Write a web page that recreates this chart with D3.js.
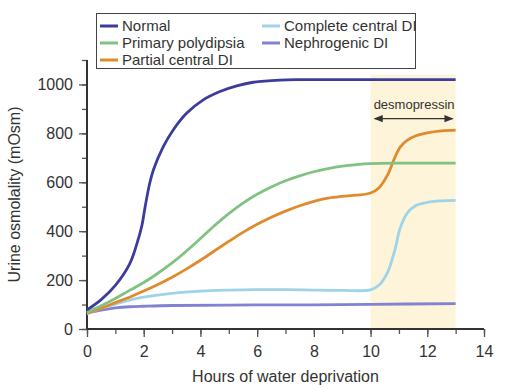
<!DOCTYPE html>
<html>
<head>
<meta charset="utf-8">
<script src="https://d3js.org/d3.v7.min.js"></script>
<style>
  body { margin: 0; background: #fff; }
  svg { font-family: "Liberation Sans", Arial, sans-serif; }
</style>
</head>
<body>
<svg id="chart" width="516" height="389"></svg>
<script>
// data
var seriesNames = ["Normal", "Primary polydipsia", "Partial central DI", "Complete central DI", "Nephrogenic DI"];
var seriesColors = ["#3c3c9c", "#80c282", "#e08a2c", "#9fd3e8", "#8282d2"];

var normal = [[0, 78], [0.5, 120], [1, 178], [1.5, 265], [1.75, 345], [1.93, 420], [2.05, 500],
  [2.2, 590], [2.34, 650], [2.69, 746], [3.04, 814], [3.51, 882], [4.1, 937], [4.69, 971],
  [5.28, 994], [5.86, 1009], [6.8, 1018], [7.5, 1020], [10, 1020], [13, 1020]];
var primary = [[0, 68], [0.5, 95], [1, 125], [1.5, 158], [2, 190], [2.5, 228], [3, 270], [3.5, 318],
  [4, 370], [4.5, 423], [5, 472], [5.5, 515], [6, 551], [6.5, 581], [7, 606], [7.5, 626], [8, 643],
  [8.5, 656], [9, 666], [9.5, 672], [10, 676], [11, 678], [13, 678]];
var partial = [[0, 65], [0.5, 85], [1, 108], [1.5, 130], [2, 155], [2.5, 182], [3, 212], [3.5, 245],
  [4, 281], [4.5, 320], [5, 358], [5.5, 395], [6, 428], [6.5, 457], [7, 482], [7.5, 504], [8, 522],
  [8.5, 535], [9, 542], [9.5, 547], [10, 556], [10.3, 578], [10.6, 630], [10.85, 700], [11.05, 745],
  [11.3, 772], [11.6, 790], [12, 802], [12.5, 810], [13, 813]];
var complete = [[0, 62], [0.5, 85], [1, 102], [1.5, 118], [2, 130], [3, 146], [4, 155], [5, 159],
  [6, 161], [7, 161], [8, 159], [9, 158], [10, 160], [10.3, 180], [10.6, 232], [10.85, 320],
  [11.05, 415], [11.3, 475], [11.6, 505], [12, 518], [12.5, 524], [13, 526]];
var nephrogenic = [[0, 65], [0.5, 77], [1, 86], [1.5, 91], [2, 93], [3, 96], [5, 98], [8, 99],
  [10, 101], [13, 104]];

var desmoStart = 10, desmoEnd = 13, desmoTop = 1040, desmoArrowY = 860;
var xTicks = [0, 2, 4, 6, 8, 10, 12, 14];
var yTicks = [0, 200, 400, 600, 800, 1000];

var svg = d3.select("#chart");
var x = d3.scaleLinear().domain([0, 14]).range([87, 484]);
var y = d3.scaleLinear().domain([0, 1100]).range([329, 60]);

// desmopressin band
svg.append("rect")
  .attr("x", x(desmoStart))
  .attr("y", y(desmoTop))
  .attr("width", x(desmoEnd) - x(desmoStart))
  .attr("height", y(0) - y(desmoTop))
  .attr("fill", "#fdf4d9");

// axes
var tickColor = "#555";
var yMinor = svg.append("g").attr("transform", "translate(" + x(0) + ",0)")
  .call(d3.axisLeft(y).tickValues(d3.range(0, 1101, 100)).tickSize(5).tickFormat(""));
var yMajor = svg.append("g").attr("transform", "translate(" + x(0) + ",0)")
  .call(d3.axisLeft(y).tickValues(yTicks).tickSize(8).tickPadding(6).tickFormat(d3.format("d")));
var xMinor = svg.append("g").attr("transform", "translate(0," + y(0) + ")")
  .call(d3.axisBottom(x).tickValues(d3.range(0, 15, 1)).tickSize(5).tickFormat(""));
var xMajor = svg.append("g").attr("transform", "translate(0," + y(0) + ")")
  .call(d3.axisBottom(x).tickValues(xTicks).tickSize(8).tickPadding(9).tickFormat(d3.format("d")));

[yMinor, yMajor, xMinor, xMajor].forEach(function (g) {
  g.select(".domain").remove();
  g.selectAll(".tick line").attr("stroke", tickColor).attr("stroke-width", 1.3);
  g.selectAll(".tick text").attr("fill", "#333").style("font-size", "16px")
    .style("font-family", "'Liberation Sans', Arial, sans-serif");
});

// axis lines
svg.append("line")
  .attr("x1", x(0)).attr("x2", x(0)).attr("y1", y(0)).attr("y2", y(1100))
  .attr("stroke", "#333").attr("stroke-width", 2);
svg.append("line")
  .attr("x1", x(0)).attr("x2", x(14)).attr("y1", y(0)).attr("y2", y(0))
  .attr("stroke", "#333").attr("stroke-width", 2);

// curves
var line = d3.line()
  .x(function (d) { return x(d[0]); })
  .y(function (d) { return y(d[1]); })
  .curve(d3.curveCatmullRom.alpha(0.5));

var allSeries = [normal, primary, partial, complete, nephrogenic];
var drawOrder = [4, 3, 2, 1, 0];
drawOrder.forEach(function (i) {
  svg.append("path")
    .datum(allSeries[i])
    .attr("d", line)
    .attr("fill", "none")
    .attr("stroke", seriesColors[i])
    .attr("stroke-width", 2.8);
});

// desmopressin arrow
svg.append("defs").selectAll("marker")
  .data(["arrowEnd", "arrowStart"])
  .enter().append("marker")
  .attr("id", function (d) { return d; })
  .attr("viewBox", "0 0 10 10")
  .attr("refX", 9).attr("refY", 5)
  .attr("markerWidth", 7).attr("markerHeight", 7)
  .attr("orient", "auto-start-reverse")
  .append("path").attr("d", "M0,1 L10,5 L0,9 z").attr("fill", "#333");

svg.append("line")
  .attr("x1", x(desmoStart) + 4).attr("x2", x(desmoEnd) - 3)
  .attr("y1", y(desmoArrowY)).attr("y2", y(desmoArrowY))
  .attr("stroke", "#333").attr("stroke-width", 1.3)
  .attr("marker-start", "url(#arrowStart)")
  .attr("marker-end", "url(#arrowEnd)");
svg.append("text")
  .attr("x", (x(desmoStart) + x(desmoEnd)) / 2 + 1)
  .attr("y", y(desmoArrowY) - 10)
  .attr("text-anchor", "middle")
  .attr("fill", "#333")
  .style("font-size", "13px")
  .text("desmopressin");

// axis titles
svg.append("text")
  .attr("x", (x(0) + x(14)) / 2)
  .attr("y", 382)
  .attr("text-anchor", "middle")
  .attr("fill", "#333")
  .style("font-size", "16px")
  .text("Hours of water deprivation");
svg.append("text")
  .attr("transform", "translate(20," + (y(0) + y(1100)) / 2 + ") rotate(-90)")
  .attr("text-anchor", "middle")
  .attr("fill", "#333")
  .style("font-size", "16px")
  .text("Urine osmolality (mOsm)");

// legend
var legend = svg.append("g");
legend.append("rect")
  .attr("x", 96.5).attr("y", 13.5).attr("width", 319).attr("height", 55)
  .attr("fill", "#fff").attr("stroke", "#444").attr("stroke-width", 1);
var legendPos = [[100, 26], [100, 43], [100, 60], [262, 26], [262, 43]];
seriesNames.forEach(function (name, i) {
  var p = legendPos[i];
  legend.append("line")
    .attr("x1", p[0]).attr("x2", p[0] + 18)
    .attr("y1", p[1]).attr("y2", p[1])
    .attr("stroke", seriesColors[i]).attr("stroke-width", 3);
  legend.append("text")
    .attr("x", p[0] + 22).attr("y", p[1])
    .attr("dy", "0.35em")
    .attr("fill", "#333")
    .style("font-size", "15px")
    .text(name);
});
</script>
</body>
</html>
